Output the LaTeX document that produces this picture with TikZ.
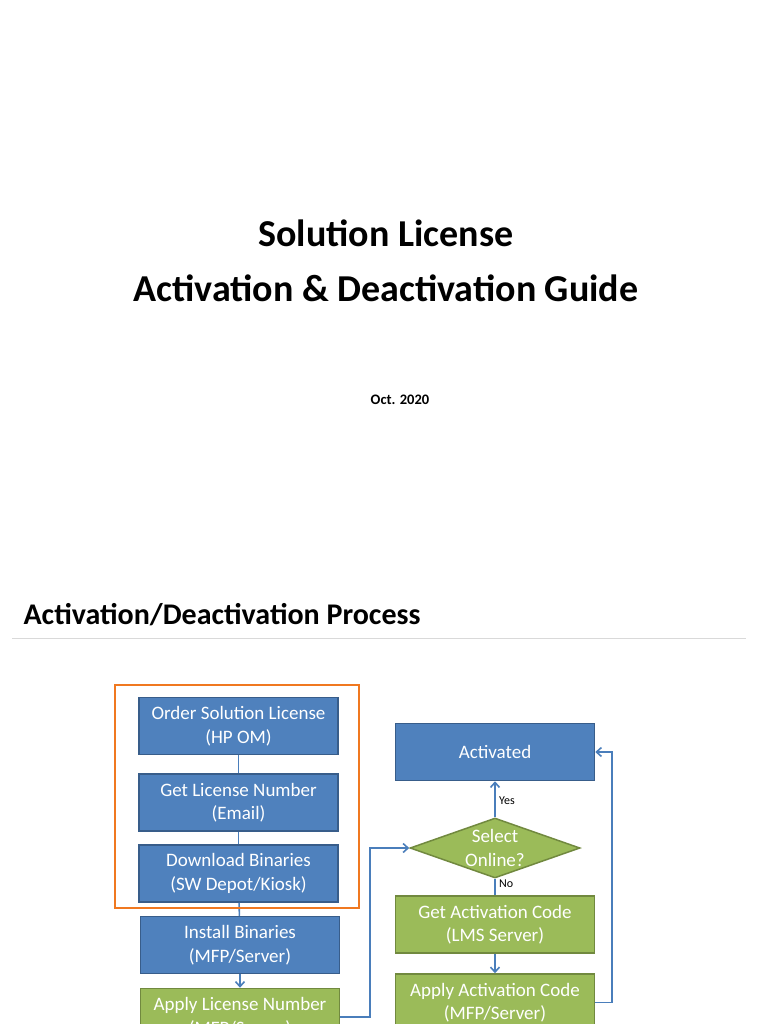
\documentclass[tikz,border=0pt]{standalone}
\usepackage{fontspec}
\setmainfont{Carlito}
\usetikzlibrary{shapes.geometric,arrows.meta}
\definecolor{bfill}{HTML}{4F81BD}\definecolor{bdraw}{HTML}{385D8A}
\definecolor{gfill}{HTML}{9BBB59}\definecolor{gdraw}{HTML}{71893F}
\definecolor{orng}{HTML}{F07820}\definecolor{conn}{HTML}{4A7EBB}
\begin{document}
\begin{tikzpicture}[x=1pt,y=-1pt,
 bbox/.style={draw=bdraw,fill=bfill,line width=1.5pt,text=white,minimum width=199pt,minimum height=57pt,inner sep=1pt,align=center,font=\fontsize{19}{23.5}\selectfont},
 gbox/.style={bbox,draw=gdraw,fill=gfill},
 cn/.style={draw=conn,line width=1.6pt},
 arr/.style={cn,-{Straight Barb[length=5pt,width=9pt]}}]
\useasboundingbox (0,0) rectangle (768,1024);
\clip (0,0) rectangle (768,1024);
\node (t1) at (386,233) {\fontsize{38}{44}\selectfont\bfseries Solution License};
\node (t2) at (386,288) {\fontsize{38}{44}\selectfont\bfseries Activation \& Deactivation Guide};
\node (dt) at (400,400) {\fontsize{14.5}{16}\selectfont\bfseries Oct. 2020};
\node[anchor=west] (hd) at (20,615) {\fontsize{30}{34}\selectfont\bfseries Activation/Deactivation Process};
\draw[black!15,line width=1pt] (12,638) -- (746,638);
\node[bbox] (o) at (238.5,726) {Order Solution License\\(HP OM)};
\node[bbox] (g) at (238.5,802.5) {Get License Number\\(Email)};
\node[bbox] (d) at (238.5,873.5) {Download Binaries\\(SW Depot/Kiosk)};
\node[bbox] (i) at (240,945) {Install Binaries\\(MFP/Server)};
\node[gbox] (al) at (240,1017) {Apply License Number\\(MFP/Server)};
\node[bbox] (ac) at (495,752) {Activated};
\node[diamond,draw=gdraw,fill=gfill,line width=1.5pt,text=white,minimum width=170pt,minimum height=60pt,aspect=2.8,inner sep=0pt,align=center,font=\fontsize{19}{23.5}\selectfont] (s) at (495,848) {Select\\Online?};
\node[gbox] (ga) at (495,924.5) {Get Activation Code\\(LMS Server)};
\node[gbox] (aa) at (495,1002.5) {Apply Activation Code\\(MFP/Server)};
\draw[cn] (o) -- (g); \draw[cn] (g) -- (d); \draw[cn] (d) -- (i);
\draw[arr] (i) -- (al);
\draw[draw=orng,line width=1.5pt] (115,685) rectangle (359,908);
\draw[arr] (al.east) -| (370,848) -- (s.west);
\draw[arr] (s.north) -- node[right,pos=0.45,text=black,font=\fontsize{12}{14}\selectfont]{Yes} (ac.south);
\draw[cn] (s.south) -- node[right,pos=0.3,text=black,font=\fontsize{12}{14}\selectfont]{No} (ga.north);
\draw[arr] (ga) -- (aa);
\draw[arr] (aa.east) -| (612,752) -- (ac.east);
\end{tikzpicture}
\end{document}
